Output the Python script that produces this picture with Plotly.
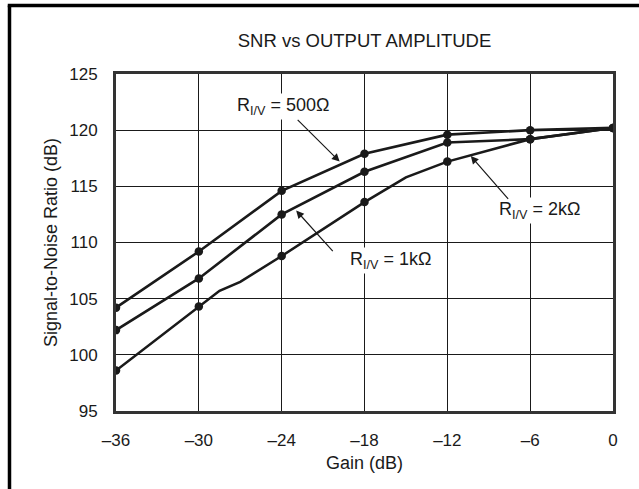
import plotly.graph_objects as go

# values
gain = [-36, -30, -24, -18, -12, -6, 0]
snr_500 = [104.2, 109.2, 114.6, 117.9, 119.6, 120.0, 120.2]
snr_1k = [102.2, 106.8, 112.5, 116.3, 118.9, 119.2, 120.2]
snr_2k = [98.6, 104.3, 108.8, 113.6, 117.2, 119.2, 120.2]

# the 2k curve bends between the marked points
gain_2k_line = [-36, -30, -28.5, -27, -24, -18, -15, -12, -6, 0]
snr_2k_line = [98.6, 104.3, 105.7, 106.5, 108.8, 113.6, 115.8, 117.2, 119.2, 120.2]

x_ticks = [-36, -30, -24, -18, -12, -6, 0]
x_tick_text = ["\u201336", "\u201330", "\u201324", "\u201318", "\u201312", "\u20136", "0"]
y_ticks = [95, 100, 105, 110, 115, 120, 125]

FONT = "Liberation Sans, Arial, Helvetica, sans-serif"
INK = "#1a1a1a"

fig = go.Figure()

series = [
    (gain, snr_500, gain, snr_500),
    (gain, snr_1k, gain, snr_1k),
    (gain_2k_line, snr_2k_line, gain, snr_2k),
]
for lx, ly, mx, my in series:
    fig.add_trace(go.Scatter(x=lx, y=ly, mode="lines",
        line=dict(color=INK, width=2.6), showlegend=False, hoverinfo="skip"))
    fig.add_trace(go.Scatter(x=mx, y=my, mode="markers",
        marker=dict(color=INK, size=8.5), showlegend=False))

# labels (white box hides the grid behind them)
labels = [
    ("R<sub>I/V</sub> = 500\u03a9", -23.9, 122.1),
    ("R<sub>I/V</sub> = 1k\u03a9", -16.1, 108.4),
    ("R<sub>I/V</sub> = 2k\u03a9", -5.35, 112.85),
]
for txt, x, y in labels:
    fig.add_annotation(x=x, y=y, text=txt, showarrow=False, bgcolor="white",
                       font=dict(size=18, color=INK, family=FONT))

# arrows: (head x, head y, tail x, tail y)
arrows = [
    (-19.8, 117.2, -22.95, 121.05),
    (-22.95, 112.85, -20.2, 109.1),
    (-10.3, 117.7, -7.5, 113.75),
]
for hx, hy, tx, ty in arrows:
    fig.add_annotation(x=hx, y=hy, ax=tx, ay=ty, xref="x", yref="y",
                       axref="x", ayref="y", text="", showarrow=True,
                       arrowhead=2, arrowsize=1.3, arrowwidth=1.2,
                       arrowcolor=INK, standoff=0, startstandoff=0)

# outer frame (only the left and top edges are in the picture)
fig.add_shape(type="line", xref="paper", yref="paper", x0=-0.2143, x1=-0.2143,
              y0=1.2033, y1=-0.3, line=dict(color="black", width=3.5))
fig.add_shape(type="line", xref="paper", yref="paper", x0=-0.2178, x1=1.1,
              y0=1.2033, y1=1.2033, line=dict(color="black", width=3.5))

fig.update_layout(
    width=639, height=489,
    paper_bgcolor="white", plot_bgcolor="white",
    margin=dict(l=116, r=26, t=74, b=78),
    font=dict(family=FONT, size=17, color=INK),
    title=dict(text="SNR vs OUTPUT AMPLITUDE", x=0.5, xref="paper",
               y=1 - 41 / 489, yanchor="middle", font=dict(size=18.5)),
    xaxis=dict(range=[-36, 0], tickvals=x_ticks, ticktext=x_tick_text,
               showgrid=True, gridcolor=INK, gridwidth=1, zeroline=False,
               showline=True, linecolor="#333", linewidth=2.8, mirror=True,
               ticks="outside", ticklen=12, tickcolor="rgba(0,0,0,0)",
               title=dict(text="Gain (dB)", standoff=8, font=dict(size=18))),
    yaxis=dict(range=[95, 125], tickvals=y_ticks,
               showgrid=True, gridcolor=INK, gridwidth=1, zeroline=False,
               showline=True, linecolor="#333", linewidth=2.8, mirror=True,
               ticks="outside", ticklen=12, tickcolor="rgba(0,0,0,0)",
               title=dict(text="Signal-to-Noise Ratio (dB)", standoff=8,
                          font=dict(size=18))),
)

fig.write_html("out.html", config={"displayModeBar": False},
               post_script="document.body.style.margin='0';")
